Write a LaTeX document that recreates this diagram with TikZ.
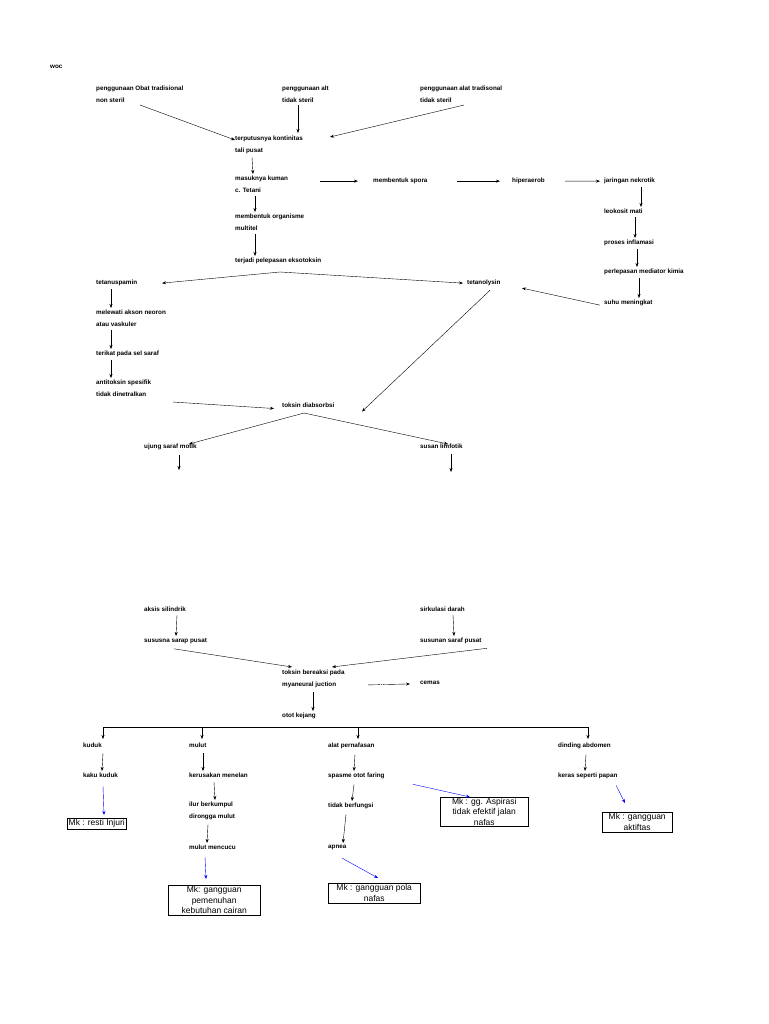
\documentclass[tikz,border=0pt]{standalone}
\usepackage{fontspec}
\setmainfont{Liberation Sans}
\usetikzlibrary{arrows.meta}
\begin{document}
\begin{tikzpicture}[x=1pt,y=-1pt,
  t/.style={anchor=north west,inner sep=0pt,align=left,font=\fontsize{6.3}{12}\selectfont\bfseries},
  mk/.style={draw,thin,inner sep=1.5pt,align=center,font=\fontsize{8.5}{10.5}\selectfont},
  a/.style={-{Stealth[length=4pt,width=3pt]},thin},
  ab/.style={a,blue}]
\useasboundingbox (0,0) rectangle (768,1024);
\fill[white] (0,0) rectangle (768,1024);
\node[t] (woc) at (50,65) {woc};
\node[t] (p1) at (96,86) {penggunaan Obat tradisional\\non steril};
\node[t] (p2) at (282,86) {penggunaan alt\\tidak steril};
\node[t] (p3) at (420,86) {penggunaan alat tradisonal\\tidak steril};
\node[t] (ter) at (235,136) {terputusnya kontinitas\\tali pusat};
\node[t] (mas) at (235,176) {masuknya kuman\\c. Tetani};
\node[t] (org) at (235,214) {membentuk organisme\\multitel};
\node[t] (eks) at (235,258) {terjadi pelepasan eksotoksin};
\node[t] (spo) at (373,178) {membentuk spora};
\node[t] (hip) at (512,178) {hiperaerob};
\node[t] (jar) at (604,178) {jaringan nekrotik};
\node[t] (leo) at (604,209) {leokosit mati};
\node[t] (pro) at (604,240) {proses inflamasi};
\node[t] (per) at (604,269) {perlepasan mediator kimia};
\node[t] (suh) at (604,300) {suhu meningkat};
\node[t] (tsp) at (96,280) {tetanuspamin};
\node[t] (tly) at (467,280) {tetanolysin};
\node[t] (mel) at (96,310) {melewati akson neoron\\atau vaskuler};
\node[t] (ika) at (96,351) {terikat pada sel saraf};
\node[t] (ant) at (96,380) {antitoksin spesifik\\tidak dinetralkan};
\node[t] (tok) at (282,403) {toksin diabsorbsi};
\node[t] (uju) at (144,444) {ujung saraf motik};
\node[t] (sus) at (420,444) {susan limfotik};
\coordinate (uje) at (179,470);
\coordinate (sue) at (451,472);
% top arrows
\draw[a] ([xshift=44,yshift=-2]p1.south west) -- ([yshift=-4]ter.north west);
\draw[a] ([xshift=16,yshift=-2]p2.south west) -- ([xshift=16,yshift=3]p2.south west |- ter.north);
\draw[a] ([xshift=44,yshift=-2]p3.south west) -- ([xshift=95,yshift=-1]ter.north west);
\draw[a] ([xshift=17,yshift=-3]ter.south west) -- ([xshift=18,yshift=2]mas.north west);
\draw[a] ([xshift=20,yshift=-3]mas.south west) -- ([xshift=20,yshift=2]org.north west);
\draw[a] ([xshift=20,yshift=-3]org.south west) -- ([xshift=20,yshift=2]eks.north west);
\draw[a] ([xshift=85]mas.north west |- spo.west) -- ([xshift=-15]spo.west);
\draw[a] ([xshift=84]spo.west) -- ([xshift=-12]hip.west);
\draw[a] ([xshift=53]hip.west) -- ([xshift=-4]jar.west);
\draw[a] ([xshift=37,yshift=-3]jar.south west) -- ([xshift=37,yshift=2]leo.north west);
\draw[a] ([xshift=31,yshift=-3]leo.south west) -- ([xshift=31,yshift=2]pro.north west);
\draw[a] ([xshift=33,yshift=-3]pro.south west) -- ([xshift=33,yshift=2]per.north west);
\draw[a] ([xshift=35,yshift=-3]per.south west) -- ([xshift=35,yshift=2]suh.north west);
\draw[a] ([xshift=-4,yshift=-2]suh.west) -- ([xshift=55,yshift=-5]tly.west);
\coordinate (top) at (280,272);
\draw[a] (top) -- ([xshift=66]tsp.west);
\draw[a] (top) -- ([xshift=-4]tly.west);
\draw[a] ([xshift=15,yshift=-3]tsp.south west) -- ([xshift=15,yshift=2]mel.north west);
\draw[a] ([xshift=15,yshift=-3]mel.south west) -- ([xshift=15,yshift=2]ika.north west);
\draw[a] ([xshift=15,yshift=-3]ika.south west) -- ([xshift=15,yshift=2]ant.north west);
\draw[a] ([xshift=77,yshift=-5]ant.south west) -- ([xshift=-8,yshift=-3]tok.west);
\draw[a] ([xshift=23,yshift=-4]tly.south west) -- ([xshift=80,yshift=-6]tok.west);
\draw[a] ([xshift=22,yshift=-5]tok.south west) -- ([xshift=45]uju.north west);
\draw[a] ([xshift=22,yshift=-5]tok.south west) -- ([xshift=28]sus.north west);
\draw[a] ([yshift=-5]uju.south -| uje) -- (uje);
\draw[a] ([yshift=-5]sus.south -| sue) -- (sue);
% bottom half
\node[t] (aks) at (144,607) {aksis silindrik};
\node[t] (ssa) at (144,638) {sususna sarap pusat};
\node[t] (sir) at (420,607) {sirkulasi darah};
\node[t] (ssb) at (420,638) {susunan saraf pusat};
\node[t] (tbr) at (282,670) {toksin bereaksi pada\\myaneural juction};
\node[t] (cem) at (420,681) {cemas};
\node[t] (oto) at (282,713) {otot kejang};
\draw[a] ([xshift=33,yshift=-3]aks.south west) -- ([xshift=32,yshift=2]ssa.north west);
\draw[a] ([xshift=33,yshift=-3]sir.south west) -- ([xshift=34,yshift=2]ssb.north west);
\draw[a] ([xshift=30,yshift=-5]ssa.south west) -- ([xshift=10,yshift=3]tbr.north west);
\draw[a] ([xshift=67,yshift=-4]ssb.south west) -- ([xshift=50,yshift=3]tbr.north west);
\draw[a,dash pattern=on 12pt off 1pt on 1pt off 1pt on 30pt] ([xshift=-52,yshift=-2]cem.west) -- ([xshift=-10,yshift=-1]cem.west);
\draw[a] ([xshift=31,yshift=-4]tbr.south west) -- ([xshift=31,yshift=2]oto.north west);
\coordinate (h1) at (103,727); \coordinate (h4) at (588,727);
\draw[thin] (h1) -- (h4);
\node[t] (kud) at (83,743) {kuduk};
\node[t] (kak) at (83,773) {kaku kuduk};
\node[t] (mul) at (189,743) {mulut};
\node[t] (ker) at (189,773) {kerusakan menelan};
\node[t] (ilu) at (189,802) {ilur berkumpul\\dirongga mulut};
\node[t] (mmc) at (189,845) {mulut mencucu};
\node[t] (ala) at (328,743) {alat pernafasan};
\node[t] (spa) at (328,773) {spasme otot faring};
\node[t] (tdk) at (328,803) {tidak berfungsi};
\node[t] (apn) at (328,845) {apnea};
\node[t] (din) at (558,743) {dinding abdomen};
\node[t] (kps) at (558,773) {keras seperti papan};
\draw[a] (h1) -- ([yshift=4]kud.north -| h1);
\draw[a] (202,727) -- ([yshift=4]mul.north -| 202,0);
\draw[a] (358,727) -- ([yshift=4]ala.north -| 358,0);
\draw[a] (h4) -- ([yshift=4]din.north -| h4);
\draw[a] ([xshift=20,yshift=-5]kud.south west) -- ([xshift=19,yshift=2]kak.north west);
\draw[a] ([xshift=14,yshift=-5]mul.south west) -- ([xshift=14,yshift=2]ker.north west);
\draw[a] ([xshift=25,yshift=-4]ker.south west) -- ([xshift=26,yshift=2]ilu.north west);
\draw[a] ([xshift=19,yshift=-4]ilu.south west) -- ([xshift=18,yshift=2]mmc.north west);
\draw[a] ([xshift=27,yshift=-5]ala.south west) -- ([xshift=26,yshift=2]spa.north west);
\draw[a] ([xshift=26,yshift=-5]spa.south west) -- ([xshift=24,yshift=2]tdk.north west);
\draw[a] ([xshift=18,yshift=-5]tdk.south west) -- ([xshift=15,yshift=2]apn.north west);
\draw[a] ([xshift=28,yshift=-5]din.south west) -- ([xshift=27,yshift=2]kps.north west);
\node[mk,anchor=north west] (b1) at (67,818) {Mk : resti Injuri};
\node[mk,anchor=north west,minimum width=92pt] (b2) at (168,885) {Mk: gangguan\\pemenuhan\\kebutuhan cairan};
\node[mk,anchor=north west,minimum width=92pt] (b3) at (328,883) {Mk : gangguan pola\\nafas};
\node[mk,anchor=north west,minimum width=88pt,inner sep=1pt] (b4) at (440,797) {Mk : gg. Aspirasi\\tidak efektif jalan\\nafas};
\node[mk,anchor=north west,minimum width=70pt] (b5) at (602,812) {Mk : gangguan\\aktiftas};
\draw[ab] ([xshift=20,yshift=-8]kak.south west) -- ([xshift=37,yshift=3]b1.north west);
\draw[ab] ([xshift=16,yshift=-7]mmc.south west) -- ([xshift=38,yshift=6]b2.north west);
\draw[ab] ([xshift=14,yshift=-8]apn.south west) -- ([xshift=50,yshift=5]b3.north west);
\draw[ab] ([xshift=85,yshift=-5]spa.south west) -- ([xshift=30]b4.north west);
\draw[ab] ([xshift=58,yshift=-6]kps.south west) -- ([xshift=23,yshift=9]b5.north west);
\end{tikzpicture}
\end{document}
